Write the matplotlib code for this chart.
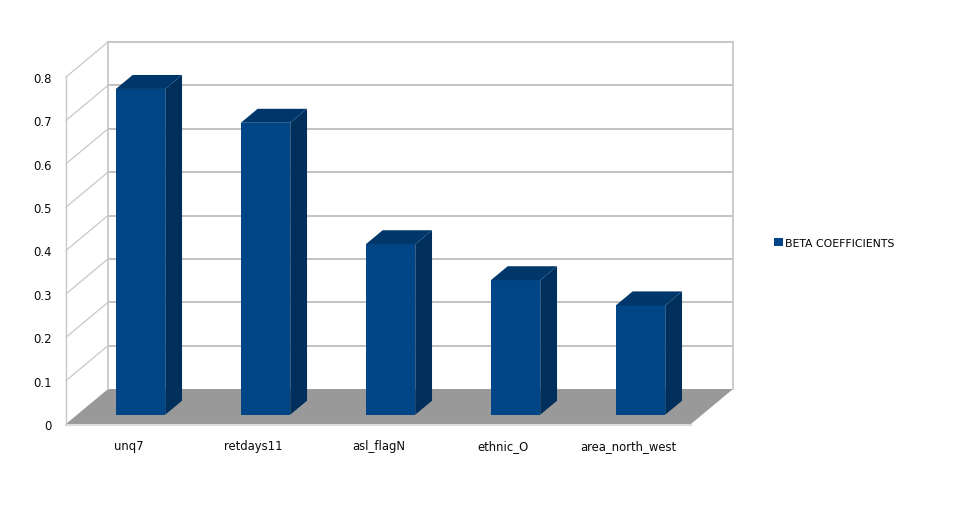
import matplotlib
matplotlib.use("Agg")
import matplotlib.pyplot as plt
from matplotlib.patches import Polygon, Patch

categories = ["unq7", "retdays11", "asl_flagN", "ethnic_O", "area_north_west"]
beta = [0.751, 0.673, 0.393, 0.31, 0.252]
y_ticks = [0, 0.1, 0.2, 0.3, 0.4, 0.5, 0.6, 0.7, 0.8]
y_labels = ["0", "0.1", "0.2", "0.3", "0.4", "0.5", "0.6", "0.7", "0.8"]
series_name = "BETA COEFFICIENTS"

W, H = 968, 510
fig = plt.figure(figsize=(W / 100, H / 100), dpi=100, facecolor="white")
plt.rcParams["font.family"] = "DejaVu Sans"

# axes = front plane of the fake 3d box
ax = fig.add_axes([66 / W, (H - 425) / H, 625 / W, 347 / H])
ax.set_xlim(0, 5)
ax.set_ylim(0, 0.8)
for s in ax.spines.values():
    s.set_visible(False)
ax.patch.set_visible(False)

# depth of the box in data units
DX = 42 / 125
DY = 35 / 434


def proj(x, y, d):
    return (x + d * DX, y + d * DY)


def poly(pts, **kw):
    p = Polygon(pts, closed=True, clip_on=False, **kw)
    ax.add_patch(p)


grid = "#bdbdbd"
wall = "#c8c8c8"
# floor and its front lip
poly([proj(0, 0, 0), proj(0, 0, 1), proj(5, 0, 1), proj(5, 0, 0)], facecolor="#999999", edgecolor="none", zorder=1)
ax.plot([0, 5], [-0.003, -0.003], color="#dcdcdc", lw=1.5, clip_on=False, zorder=1)

# walls
for t in y_ticks[1:]:
    ax.plot(*zip(proj(0, t, 1), proj(5, t, 1)), color=grid, lw=1.3, clip_on=False, zorder=1)
    ax.plot(*zip(proj(0, t, 0), proj(0, t, 1)), color=wall, lw=0.9, clip_on=False, zorder=1)
ax.plot(*zip(proj(0, 0, 0), proj(0, 0.8, 0)), color=wall, lw=1, clip_on=False, zorder=1)
ax.plot(*zip(proj(0, 0, 1), proj(0, 0.8, 1)), color=wall, lw=1.3, clip_on=False, zorder=1)
ax.plot(*zip(proj(5, 0, 1), proj(5, 0.8, 1)), color=wall, lw=1.3, clip_on=False, zorder=1)
ax.plot(*zip(proj(0, 0.8, 1), proj(5, 0.8, 1)), color=wall, lw=1.5, clip_on=False, zorder=2)

# bars
half = 24.7 / 125
d0, d1 = 9.3 / 35, 23.3 / 35
for i, v in enumerate(beta):
    c = i + 0.5 + 0.007
    l, r = c - half, c + half
    poly([proj(l, 0, d0), proj(r, 0, d0), proj(r, v, d0), proj(l, v, d0)],
         facecolor="#004586", edgecolor="none", zorder=3)
    poly([proj(r, 0, d0), proj(r, 0, d1), proj(r, v, d1), proj(r, v, d0)],
         facecolor="#002f5c", edgecolor="none", zorder=3)
    poly([proj(l, v, d0), proj(r, v, d0), proj(r, v, d1), proj(l, v, d1)],
         facecolor="#00376b", edgecolor="none", zorder=3)

ax.set_xticks([i + 0.5 for i in range(len(categories))])
ax.set_xticklabels(categories)
ax.set_yticks(y_ticks)
ax.set_yticklabels(y_labels)
ax.tick_params(axis="x", length=0, pad=10.5, labelsize=8.4, labelcolor="#0a0a0a")
ax.tick_params(axis="y", length=0, pad=10, labelsize=8.4, labelcolor="#0a0a0a")

fig.legend(handles=[Patch(facecolor="#004586", label=series_name)],
           loc="center left", bbox_to_anchor=(774 / W, (H - 244) / H),
           frameon=False, fontsize=7.85, handlelength=0.8, handleheight=0.8,
           handletextpad=0.2, borderpad=0, borderaxespad=0)

fig.savefig("out.png", dpi=100, facecolor="white")
